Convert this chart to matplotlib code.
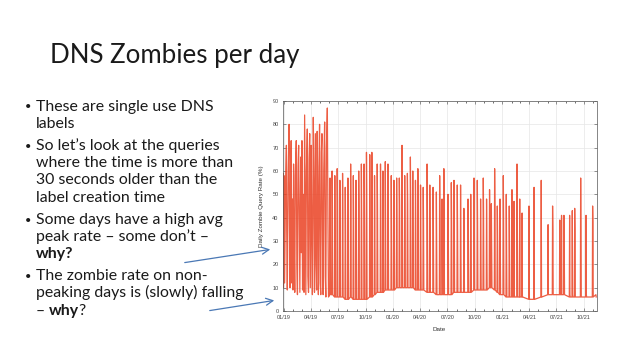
# DNS zombies slide: bullets on the left, daily zombie rate chart on the right
import matplotlib
matplotlib.use("Agg")
import matplotlib.pyplot as plt
import matplotlib.dates as mdates
import pandas as pd

# first months of 2019, read vertex by vertex (days since 2019-01-01, rate in %)
early_day = [-4, -3, -2, 0, 2, 5, 8, 9, 11, 14,
             17, 18, 20, 22, 24, 26, 28, 30, 32, 34,
             36, 38, 41, 43, 45, 47, 49, 51, 53, 56,
             58, 60, 62, 65, 67, 69, 71, 73, 75, 78,
             80, 82, 84, 86, 88, 91, 93, 95, 98, 100,
             102, 105, 107, 109, 111, 113, 115, 117, 119, 121,
             123, 125, 127, 129, 131, 133, 136, 138, 140, 142,
             145, 147, 149]
early_rate = [45, 59, 10, 58, 12, 52, 71, 35, 9, 60,
              80, 45, 10, 55, 73, 12, 48, 9, 63, 30,
              8, 58, 73, 20, 7, 62, 71, 40, 8, 66,
              25, 73, 9, 50, 8, 84, 45, 7, 60, 78,
              15, 8, 65, 76, 10, 71, 30, 7, 83, 55,
              8, 76, 20, 9, 77, 45, 7, 62, 80, 12,
              7, 68, 76, 30, 7, 60, 81, 15, 6, 70,
              87, 40, 6]

# later peaks: day of the peak, peak rate, rate the day after, floor rate around it
spike_day = [154, 161, 170, 178, 187, 196, 205, 214, 223, 232,
             241, 250, 259, 268, 276, 287, 294, 303, 312, 323,
             331, 339, 348, 359, 368, 377, 386, 395, 404, 413,
             423, 431, 440, 448, 457, 466, 479, 488, 499, 510,
             521, 529, 535, 549, 560, 569, 580, 591, 602, 616,
             625, 636, 647, 658, 667, 678, 688, 694, 705, 714,
             723, 734, 744, 754, 763, 770, 780, 789, 797, 820,
             837, 861, 884, 899, 923, 929, 937, 956, 965, 973,
             993, 1011, 1033]
spike_peak = [57, 60, 58, 61, 56, 59, 53, 57, 63, 58,
              56, 60, 63, 63, 68, 67, 68, 58, 63, 63,
              60, 64, 63, 58, 56, 57, 57, 71, 58, 59,
              66, 60, 56, 61, 54, 53, 63, 54, 53, 51,
              58, 48, 61, 50, 55, 56, 54, 54, 44, 48,
              50, 57, 56, 48, 57, 48, 52, 46, 61, 45,
              48, 58, 50, 45, 52, 47, 63, 48, 42, 45,
              53, 56, 37, 45, 39, 41, 41, 41, 43, 44,
              57, 41, 45]
spike_next = [40, 45, 30, 47, 25, 42, 35, 30, 48, 38,
              35, 45, 40, 48, 52, 38, 50, 40, 45, 42,
              45, 40, 50, 35, 42, 38, 45, 50, 40, 46,
              48, 35, 40, 45, 30, 38, 42, 30, 35, 28,
              40, 30, 45, 32, 38, 40, 35, 30, 28, 35,
              30, 40, 38, 30, 42, 30, 35, 28, 45, 30,
              30, 40, 30, 28, 35, 7, 40, 6, 6, 6,
              6, 6, 7, 35, 7, 7, 30, 7, 7, 35,
              35, 7, 38]
spike_floor = [7, 7, 6, 6, 6, 6, 5, 5, 6, 5,
               5, 5, 5, 5, 5, 6, 6, 7, 8, 8,
               8, 9, 9, 9, 9, 10, 10, 10, 10, 10,
               10, 10, 9, 9, 9, 9, 8, 8, 8, 7,
               7, 7, 7, 7, 7, 8, 8, 8, 8, 8,
               8, 9, 9, 9, 9, 9, 10, 10, 9, 8,
               7, 7, 6, 6, 6, 6, 6, 6, 6, 5,
               5, 6, 7, 7, 7, 7, 7, 6, 6, 6,
               6, 6, 6]
tail_day = [1044, 1045]
tail_rate = [7, 6]

bullets = [
    [[("These are single use DNS", "normal")], [("labels", "normal")]],
    [[("So let\u2019s look at the queries", "normal")],
     [("where the time is more than", "normal")],
     [("30 seconds older than the", "normal")],
     [("label creation time", "normal")]],
    [[("Some days have a high avg", "normal")],
     [("peak rate \u2013 some don\u2019t \u2013", "normal")],
     [("why?", "bold")]],
    [[("The zombie rate on non-", "normal")],
     [("peaking days is (slowly) falling", "normal")],
     [("\u2013 ", "normal"), ("why", "bold"), ("?", "normal")]],
]

# build the polyline
xs = list(early_day)
ys = list(early_rate)
for d, p, n, f in zip(spike_day, spike_peak, spike_next, spike_floor):
    xs += [d - 1, d, d + 1, d + 2]
    ys += [f, p, n, f]
xs += tail_day
ys += tail_rate
t0 = pd.Timestamp("2019-01-01")
dates = t0 + pd.to_timedelta(xs, unit="D")

W, H = 638, 359
fig = plt.figure(figsize=(W / 100, H / 100), dpi=100)
fig.patch.set_facecolor("white")

sfont = "Lato"
fig.text(50 / W, 1 - 62.5 / H, "DNS Zombies per day", fontsize=18.6, family=sfont,
         color="#1a1a1a", va="baseline")

r = fig.canvas.get_renderer()
y = 110.5
for para in bullets:
    fig.text(25 / W, 1 - y / H, "\u2022", fontsize=8, family=sfont, va="baseline", color="#1a1a1a")
    for line in para:
        x = 36
        for txt, wt in line:
            t = fig.text(x / W, 1 - y / H, txt, fontsize=11.4, family=sfont, fontweight=wt,
                         va="baseline", color="#1a1a1a")
            x += t.get_window_extent(renderer=r).width - 0.5
        y += 17.4
    y += 4.3

# chart
ax = fig.add_axes([282.7 / W, 1 - 311 / H, (596.5 - 282.7) / W, (311 - 101) / H])
ax.plot(dates, ys, color="#ea4223", lw=0.9, alpha=0.85)
ax.set_xlim(t0 + pd.Timedelta(days=-4.4), t0 + pd.Timedelta(days=1046))
ax.set_ylim(0, 90)
ax.set_yticks(range(0, 91, 10))
ax.xaxis.set_major_locator(mdates.MonthLocator(bymonth=[1, 4, 7, 10]))
ax.xaxis.set_minor_locator(mdates.MonthLocator())
ax.xaxis.set_major_formatter(mdates.DateFormatter("%m/%y"))
ax.grid(True, color="#e6e6e6", lw=0.5)
ax.set_axisbelow(True)
ax.tick_params(direction="in", top=True, right=True, labelsize=4, length=2, width=0.4,
               colors="#444444", pad=3)
ax.tick_params(which="minor", direction="in", top=True, length=1.2, width=0.4)
for s in ax.spines.values():
    s.set_linewidth(0.5)
    s.set_color("#555555")
ax.set_xlabel("Date", fontsize=4.5, family="Liberation Sans", color="#333333", labelpad=5)
ax.set_ylabel("Daily Zombie Query Rate (%)", fontsize=4.5, family="Liberation Sans",
              color="#333333", labelpad=6)
for lab in ax.get_xticklabels() + ax.get_yticklabels():
    lab.set_family("Liberation Sans")

# hand-drawn style arrows pointing at the two levels
for (x0, y0), (x1, y1) in [((182, 263), (273, 249)), ((207, 311), (277, 300))]:
    fig.add_artist(matplotlib.patches.FancyArrowPatch(
        (x0 / W, 1 - y0 / H), (x1 / W, 1 - y1 / H), transform=fig.transFigure,
        arrowstyle="->,head_length=5,head_width=2.5", color="#4a78b5", lw=0.9))

fig.savefig("out.png", dpi=100)
